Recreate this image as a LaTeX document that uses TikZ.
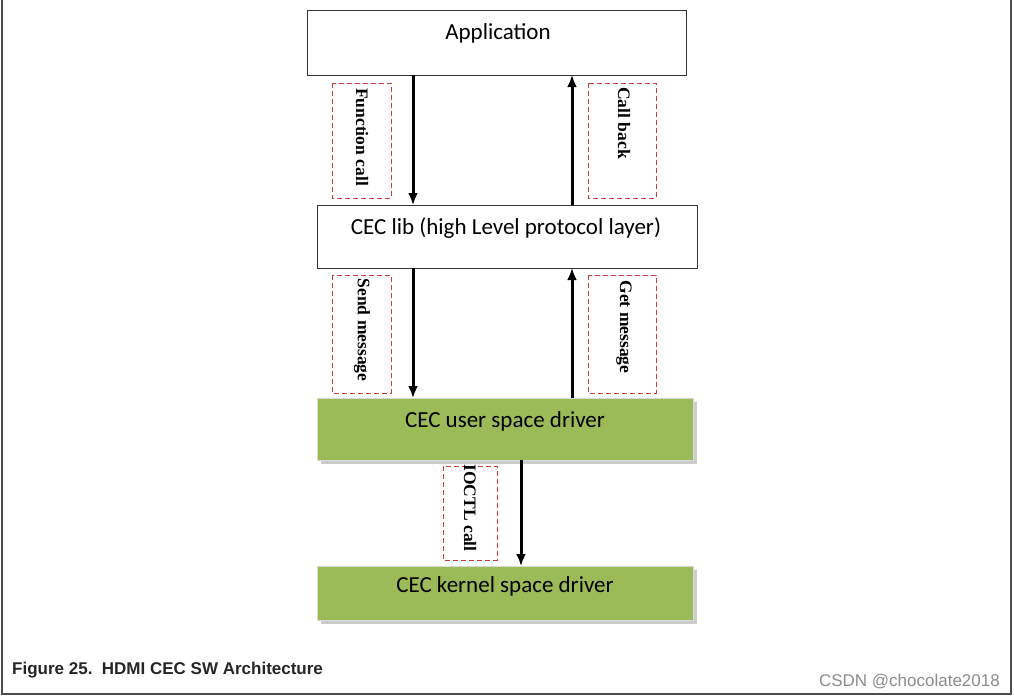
\documentclass[tikz,border=0pt]{standalone}
\usepackage{fontspec}
\usetikzlibrary{arrows.meta}
\setmainfont{Liberation Serif}
\newfontfamily\boxf{Carlito}
\newfontfamily\capf{Liberation Sans}
\begin{document}
\begin{tikzpicture}[x=1pt,y=-1pt,
 box/.style={draw=black!80,line width=0.8pt,fill=white},
 gbox/.style={draw=black!15,line width=0.8pt,fill={rgb,255:red,155;green,187;blue,89}},
 btxt/.style={font=\boxf\fontsize{23}{26}\selectfont},
 lab/.style={draw={rgb,255:red,200;green,60;blue,60},dash pattern=on 5pt off 3pt,line width=1pt},
 ltxt/.style={rotate=-90,font=\bfseries\fontsize{17.5}{20}\selectfont},
 arr/.style={-{Latex[length=12pt,width=10pt]},line width=3pt}]
\useasboundingbox (0,0) rectangle (1014,699);
\fill[white] (0,0) rectangle (1014,699);
\draw[black!70,line width=1.8pt] (2,-2) rectangle (1011,694);
% boxes
\node[box,minimum width=379pt,minimum height=65pt] (app) at (496.5,42.5) {};
\node[btxt] (tapp) at (498,33) {Application};
\node[box,minimum width=380pt,minimum height=63pt] (lib) at (507,236.5) {};
\node[btxt] (tlib) at (506,228) {CEC lib (high Level protocol layer)};
\fill[black!20] (321,402) rectangle (697,464);
\node[gbox,minimum width=376pt,minimum height=62pt] (usr) at (505,429) {};
\node[btxt] (tusr) at (505,421) {CEC user space driver};
\fill[black!20] (321,570) rectangle (697,624);
\node[gbox,minimum width=376pt,minimum height=54pt] (ker) at (505,593) {};
\node[btxt] (tker) at (505,586) {CEC kernel space driver};
% coordinates
\coordinate (a1) at (413,75); \coordinate (a2) at (413,205);
\coordinate (b1) at (572,205); \coordinate (b2) at (572,75);
\coordinate (c1) at (413,268); \coordinate (c2) at (413,398);
\coordinate (d1) at (572,398); \coordinate (d2) at (572,268);
\coordinate (e1) at (521,460); \coordinate (e2) at (521,566);
\draw[arr] (a1) -- (a2);
\draw[arr] (b1) -- (b2);
\draw[arr] (c1) -- (c2);
\draw[arr] (d1) -- (d2);
\draw[arr] (e1) -- (e2);
% labels
\draw[lab] (332,83) rectangle (391,198); \node[ltxt] (l1) at (362,137) {Function call};
\draw[lab] (588,83) rectangle (656,198); \node[ltxt] (l2) at (624,123) {Call back};
\draw[lab] (332,275) rectangle (391,393); \node[ltxt] (l3) at (362,330) {Send message};
\draw[lab] (588,275) rectangle (656,393); \node[ltxt] (l4) at (624,327) {Get message};
\draw[lab] (443,466) rectangle (497,560); \node[ltxt] (l5) at (470,508) {IOCTL call};
% caption
\node[anchor=west,font=\capf\bfseries\fontsize{17}{20}\selectfont,text=black!85,inner sep=0] (cap) at (12,670) {Figure 25.\ \ HDMI CEC SW Architecture};
\node[anchor=east,font=\capf\fontsize{17}{20}\selectfont,text=black!45,inner sep=0] (wm) at (1000,682) {CSDN @chocolate2018};
\end{tikzpicture}
\end{document}
